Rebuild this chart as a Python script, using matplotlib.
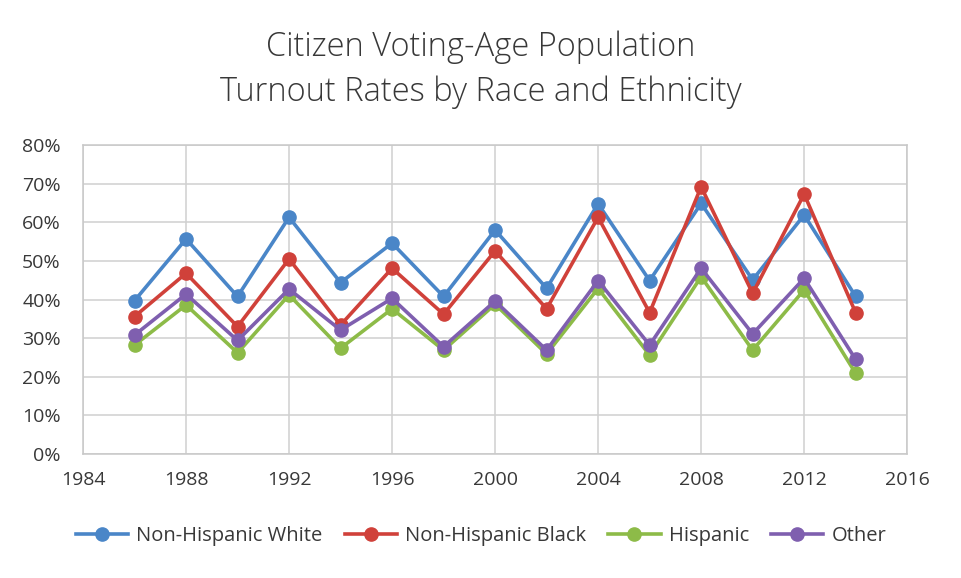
import matplotlib
matplotlib.use("Agg")
import matplotlib.pyplot as plt

years = [1986, 1988, 1990, 1992, 1994, 1996, 1998, 2000, 2002, 2004, 2006, 2008, 2010, 2012, 2014]
white = [39.7, 55.7, 40.8, 61.3, 44.4, 54.6, 40.8, 58.0, 42.9, 64.8, 44.9, 64.9, 45.1, 61.9, 40.8]
black = [35.6, 46.8, 33.0, 50.5, 33.4, 48.1, 36.2, 52.6, 37.6, 61.3, 36.6, 69.2, 41.6, 67.3, 36.6]
hispanic = [28.2, 38.6, 26.2, 41.2, 27.4, 37.6, 26.9, 38.8, 25.9, 42.9, 25.6, 45.9, 26.9, 42.5, 20.9]
other = [30.8, 41.4, 29.4, 42.7, 32.1, 40.3, 27.8, 39.6, 26.9, 44.9, 28.2, 48.1, 31.1, 45.5, 24.5]

series = [("Non-Hispanic White", white, "#4A86C8"),
          ("Non-Hispanic Black", black, "#D0413A"),
          ("Hispanic", hispanic, "#8DBB48"),
          ("Other", other, "#7F5FAF")]

plt.rcParams['font.family'] = ['Open Sans', 'DejaVu Sans']
txt = '#383838'

fig = plt.figure(figsize=(9.62, 5.78), dpi=100)
ax = fig.add_axes([0.0863, 0.2145, 0.8567, 0.5345])

for name, vals, col in series:
    ax.plot(years, vals, color=col, lw=2.6, marker='o', ms=9.5, label=name)

ax.set_xlim(1984, 2016)
ax.set_ylim(0, 80)
ax.set_xticks(range(1984, 2017, 4))
ax.set_yticks(range(0, 81, 10))
ax.set_yticklabels(['%d%%' % v for v in range(0, 81, 10)])
ax.grid(True, color='#d0d0d0', lw=1.1)
ax.set_axisbelow(True)
for s in ax.spines.values():
    s.set_color('#c8c8c8')
    s.set_linewidth(1.1)
ax.tick_params(length=0, labelsize=14, colors=txt)
ax.tick_params(axis='y', pad=16)
ax.tick_params(axis='x', pad=12)

fig.text(0.5, 0.918, "Citizen Voting-Age Population", ha='center', va='center',
         fontsize=23.5, color=txt, fontweight='light')
fig.text(0.5, 0.840, "Turnout Rates by Race and Ethnicity", ha='center', va='center',
         fontsize=23.5, color=txt, fontweight='light')

fig.legend(loc='center', bbox_to_anchor=(0.5, 0.072), ncol=4, frameon=False,
           fontsize=14.5, labelcolor=txt, handlelength=2.6, columnspacing=1.1, handletextpad=0.4)

fig.savefig('out.png', dpi=100, facecolor='white')
